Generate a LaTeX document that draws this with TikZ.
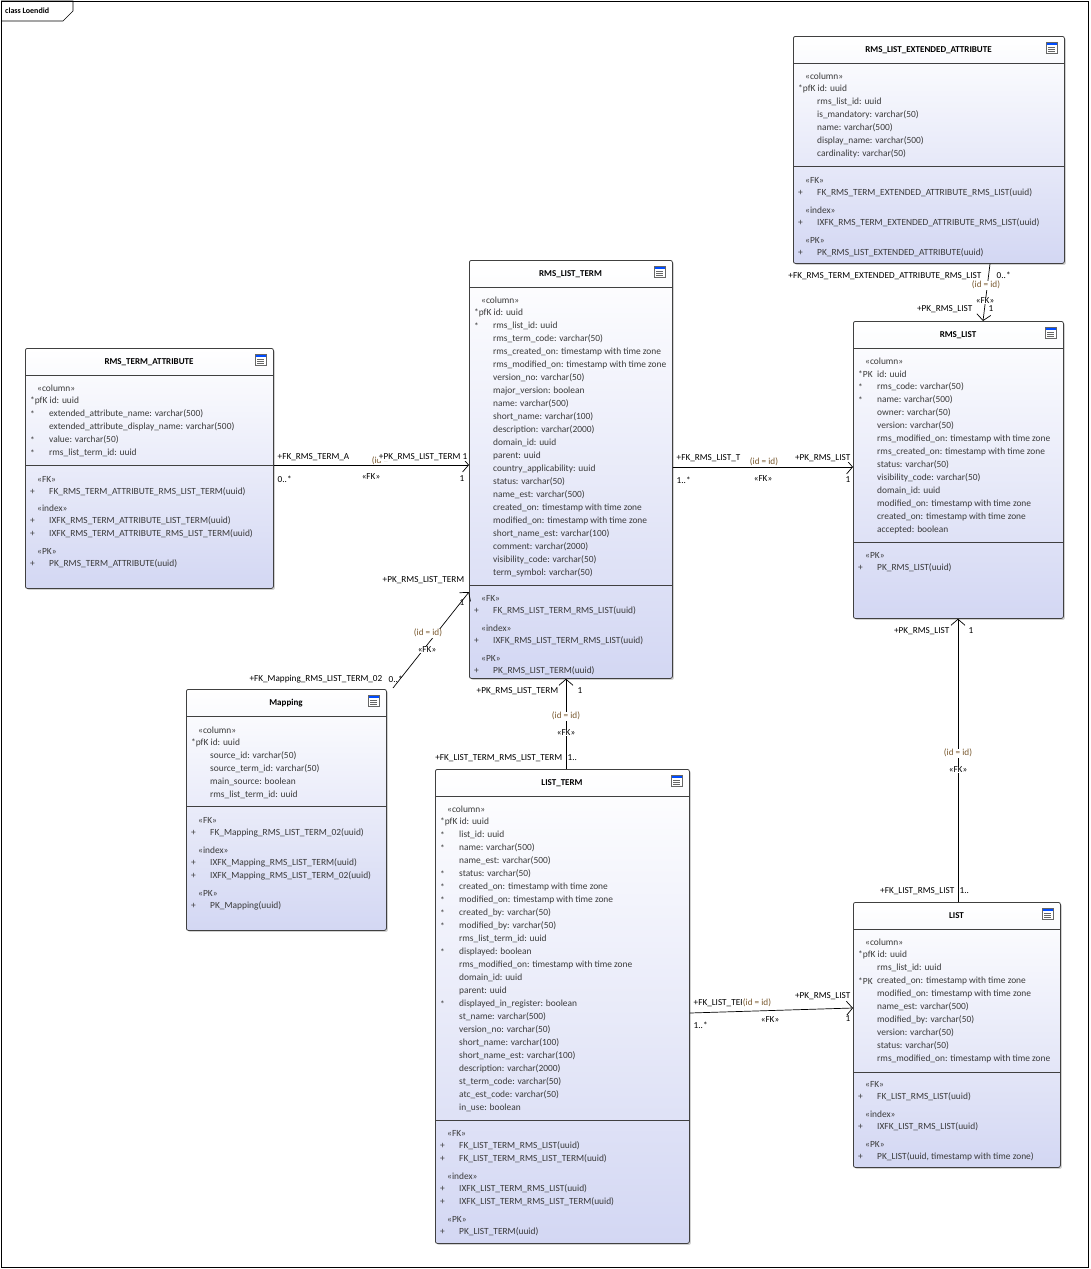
\documentclass[tikz,border=0pt]{standalone}
\usepackage{fontspec}
\setmainfont{Carlito}
\usetikzlibrary{arrows.meta,shadows}
\definecolor{bord}{HTML}{404040}
\definecolor{fillb}{HTML}{D3D7F3}
\definecolor{txtc}{HTML}{3A3A3A}
\definecolor{lblc}{HTML}{7A5A30}
\tikzset{
 x=1pt,y=-1pt,
 tblbox/.style={draw=bord,line width=0.8pt,rounded corners=2pt,top color=white,bottom color=fillb,inner sep=0pt,drop shadow={shadow xshift=1.5pt,shadow yshift=-1.5pt,opacity=.35}},
 txt/.style={anchor=west,inner sep=0pt,font=\fontsize{9.4}{10}\selectfont,text=txtc},
 ttl/.style={inner sep=0pt,font=\fontsize{9}{10}\selectfont\bfseries,text=black},
 lbl/.style={inner sep=0.5pt,font=\fontsize{9.2}{10}\selectfont,text=black},
 idl/.style={inner sep=0.5pt,font=\fontsize{9.2}{10}\selectfont,text=lblc},
 fk/.style={draw=black,line width=0.7pt,-{Straight Barb[length=6pt,width=14pt]}},
}
% table box
\newcommand\tbl[6]{%
 \node[tblbox,anchor=north west,minimum width={(#4-#2)*1pt},minimum height={(#5-#3)*1pt}] (#1) at (#2,#3) {};
 \draw[bord,line width=0.7pt] (#2,{#3+27}) -- (#4,{#3+27});
 \node[ttl] at ({(#2+#4)/2},{#3+14}) {#6};
 \fill[white] ({#4-18},{#3+6}) rectangle ({#4-7},{#3+17});
 \fill[blue!70!cyan] ({#4-18},{#3+6}) rectangle ({#4-7},{#3+8.5});
 \draw[gray!80!black,line width=0.5pt] ({#4-18},{#3+6}) rectangle ({#4-7},{#3+17});
 \foreach \q in {11,13,15}{\draw[gray!80!black,line width=0.5pt] ({#4-16},{#3+\q}) -- ({#4-9},{#3+\q});}
}
\newcommand\sep[3]{\draw[bord,line width=0.7pt] (#1,#3) -- (#2,#3);}
\newcommand\st[3]{\node[txt] at ({#1+12},#2) {#3};}
\newcommand\fl[4]{\node[txt] at ({#1+5},#2) {#3}; \node[txt] at ({#1+24},#2) {#4};}
\newcommand\pf[3]{\node[txt] at ({#1+5},#2) {#3};}
\begin{document}
\begin{tikzpicture}
\useasboundingbox (0,0) rectangle (1090,1269);
\fill[white] (0,0) rectangle (1090,1269);
% frame
\draw[line width=0.7pt] (1,1) rectangle (1088,1267);
\draw[line width=0.7pt] (1,1) -- (73,1) -- (73,11) -- (63,21) -- (1,21);
\node[anchor=west,inner sep=0pt,font=\fontsize{8}{9}\selectfont\bfseries] at (5,11) {class Loendid};

% RMS_LIST_EXTENDED_ATTRIBUTE
\tbl{rlea}{793}{36}{1064}{263}{RMS\_LIST\_EXTENDED\_ATTRIBUTE}
\st{793}{76}{«column»}
\pf{793}{89}{*pfK id: uuid}
\fl{793}{102}{}{rms\_list\_id: uuid}
\fl{793}{115}{}{is\_mandatory: varchar(50)}
\fl{793}{128}{}{name: varchar(500)}
\fl{793}{141}{}{display\_name: varchar(500)}
\fl{793}{154}{}{cardinality: varchar(50)}
\sep{793}{1064}{166}
\st{793}{180}{«FK»}
\fl{793}{193}{+}{FK\_RMS\_TERM\_EXTENDED\_ATTRIBUTE\_RMS\_LIST(uuid)}
\st{793}{210}{«index»}
\fl{793}{223}{+}{IXFK\_RMS\_TERM\_EXTENDED\_ATTRIBUTE\_RMS\_LIST(uuid)}
\st{793}{240}{«PK»}
\fl{793}{253}{+}{PK\_RMS\_LIST\_EXTENDED\_ATTRIBUTE(uuid)}

% RMS_LIST_TERM
\tbl{rlt}{469}{260}{672}{678}{RMS\_LIST\_TERM}
\st{469}{300}{«column»}
\pf{469}{313}{*pfK id: uuid}
\fl{469}{326}{*}{rms\_list\_id: uuid}
\fl{469}{339}{}{rms\_term\_code: varchar(50)}
\fl{469}{352}{}{rms\_created\_on: timestamp with time zone}
\fl{469}{365}{}{rms\_modified\_on: timestamp with time zone}
\fl{469}{378}{}{version\_no: varchar(50)}
\fl{469}{391}{}{major\_version: boolean}
\fl{469}{404}{}{name: varchar(500)}
\fl{469}{417}{}{short\_name: varchar(100)}
\fl{469}{430}{}{description: varchar(2000)}
\fl{469}{443}{}{domain\_id: uuid}
\fl{469}{456}{}{parent: uuid}
\fl{469}{469}{}{country\_applicability: uuid}
\fl{469}{482}{}{status: varchar(50)}
\fl{469}{495}{}{name\_est: varchar(500)}
\fl{469}{508}{}{created\_on: timestamp with time zone}
\fl{469}{521}{}{modified\_on: timestamp with time zone}
\fl{469}{534}{}{short\_name\_est: varchar(100)}
\fl{469}{547}{}{comment: varchar(2000)}
\fl{469}{560}{}{visibility\_code: varchar(50)}
\fl{469}{573}{}{term\_symbol: varchar(50)}
\sep{469}{672}{585}
\st{469}{598}{«FK»}
\fl{469}{611}{+}{FK\_RMS\_LIST\_TERM\_RMS\_LIST(uuid)}
\st{469}{628}{«index»}
\fl{469}{641}{+}{IXFK\_RMS\_LIST\_TERM\_RMS\_LIST(uuid)}
\st{469}{658}{«PK»}
\fl{469}{671}{+}{PK\_RMS\_LIST\_TERM(uuid)}

% RMS_TERM_ATTRIBUTE
\tbl{rta}{25}{348}{273}{588}{RMS\_TERM\_ATTRIBUTE}
\st{25}{388}{«column»}
\pf{25}{401}{*pfK id: uuid}
\fl{25}{414}{*}{extended\_attribute\_name: varchar(500)}
\fl{25}{427}{}{extended\_attribute\_display\_name: varchar(500)}
\fl{25}{440}{*}{value: varchar(50)}
\fl{25}{453}{*}{rms\_list\_term\_id: uuid}
\sep{25}{273}{465}
\st{25}{479}{«FK»}
\fl{25}{492}{+}{FK\_RMS\_TERM\_ATTRIBUTE\_RMS\_LIST\_TERM(uuid)}
\st{25}{508}{«index»}
\fl{25}{521}{+}{IXFK\_RMS\_TERM\_ATTRIBUTE\_LIST\_TERM(uuid)}
\fl{25}{534}{+}{IXFK\_RMS\_TERM\_ATTRIBUTE\_RMS\_LIST\_TERM(uuid)}
\st{25}{551}{«PK»}
\fl{25}{564}{+}{PK\_RMS\_TERM\_ATTRIBUTE(uuid)}

% RMS_LIST
\tbl{rl}{853}{321}{1063}{618}{RMS\_LIST}
\st{853}{361}{«column»}
\fl{853}{374}{*PK}{id: uuid}
\fl{853}{387}{*}{rms\_code: varchar(50)}
\fl{853}{400}{*}{name: varchar(500)}
\fl{853}{413}{}{owner: varchar(50)}
\fl{853}{426}{}{version: varchar(50)}
\fl{853}{439}{}{rms\_modified\_on: timestamp with time zone}
\fl{853}{452}{}{rms\_created\_on: timestamp with time zone}
\fl{853}{465}{}{status: varchar(50)}
\fl{853}{478}{}{visibility\_code: varchar(50)}
\fl{853}{491}{}{domain\_id: uuid}
\fl{853}{504}{}{modified\_on: timestamp with time zone}
\fl{853}{517}{}{created\_on: timestamp with time zone}
\fl{853}{530}{}{accepted: boolean}
\sep{853}{1063}{542}
\st{853}{555}{«PK»}
\fl{853}{568}{+}{PK\_RMS\_LIST(uuid)}

% Mapping
\tbl{map}{186}{689}{386}{930}{Mapping}
\st{186}{730}{«column»}
\pf{186}{743}{*pfK id: uuid}
\fl{186}{756}{}{source\_id: varchar(50)}
\fl{186}{769}{}{source\_term\_id: varchar(50)}
\fl{186}{782}{}{main\_source: boolean}
\fl{186}{795}{}{rms\_list\_term\_id: uuid}
\sep{186}{386}{806}
\st{186}{820}{«FK»}
\fl{186}{833}{+}{FK\_Mapping\_RMS\_LIST\_TERM\_02(uuid)}
\st{186}{850}{«index»}
\fl{186}{863}{+}{IXFK\_Mapping\_RMS\_LIST\_TERM(uuid)}
\fl{186}{876}{+}{IXFK\_Mapping\_RMS\_LIST\_TERM\_02(uuid)}
\st{186}{893}{«PK»}
\fl{186}{906}{+}{PK\_Mapping(uuid)}

% LIST_TERM
\tbl{ltm}{435}{769}{689}{1243}{LIST\_TERM}
\st{435}{809}{«column»}
\pf{435}{822}{*pfK id: uuid}
\fl{435}{835}{*}{list\_id: uuid}
\fl{435}{848}{*}{name: varchar(500)}
\fl{435}{861}{}{name\_est: varchar(500)}
\fl{435}{874}{*}{status: varchar(50)}
\fl{435}{887}{*}{created\_on: timestamp with time zone}
\fl{435}{900}{*}{modified\_on: timestamp with time zone}
\fl{435}{913}{*}{created\_by: varchar(50)}
\fl{435}{926}{*}{modified\_by: varchar(50)}
\fl{435}{939}{}{rms\_list\_term\_id: uuid}
\fl{435}{952}{*}{displayed: boolean}
\fl{435}{965}{}{rms\_modified\_on: timestamp with time zone}
\fl{435}{978}{}{domain\_id: uuid}
\fl{435}{991}{}{parent: uuid}
\fl{435}{1004}{*}{displayed\_in\_register: boolean}
\fl{435}{1017}{}{st\_name: varchar(500)}
\fl{435}{1030}{}{version\_no: varchar(50)}
\fl{435}{1043}{}{short\_name: varchar(100)}
\fl{435}{1056}{}{short\_name\_est: varchar(100)}
\fl{435}{1069}{}{description: varchar(2000)}
\fl{435}{1082}{}{st\_term\_code: varchar(50)}
\fl{435}{1095}{}{atc\_est\_code: varchar(50)}
\fl{435}{1108}{}{in\_use: boolean}
\sep{435}{689}{1120}
\st{435}{1133}{«FK»}
\fl{435}{1146}{+}{FK\_LIST\_TERM\_RMS\_LIST(uuid)}
\fl{435}{1159}{+}{FK\_LIST\_TERM\_RMS\_LIST\_TERM(uuid)}
\st{435}{1176}{«index»}
\fl{435}{1189}{+}{IXFK\_LIST\_TERM\_RMS\_LIST(uuid)}
\fl{435}{1202}{+}{IXFK\_LIST\_TERM\_RMS\_LIST\_TERM(uuid)}
\st{435}{1219}{«PK»}
\fl{435}{1232}{+}{PK\_LIST\_TERM(uuid)}

% LIST
\tbl{lst}{853}{902}{1060}{1167}{LIST}
\st{853}{942}{«column»}
\pf{853}{955}{*pfK id: uuid}
\fl{853}{968}{}{rms\_list\_id: uuid}
\fl{853}{981}{*PK}{created\_on: timestamp with time zone}
\fl{853}{994}{}{modified\_on: timestamp with time zone}
\fl{853}{1007}{}{name\_est: varchar(500)}
\fl{853}{1020}{}{modified\_by: varchar(50)}
\fl{853}{1033}{}{version: varchar(50)}
\fl{853}{1046}{}{status: varchar(50)}
\fl{853}{1059}{}{rms\_modified\_on: timestamp with time zone}
\sep{853}{1060}{1072}
\st{853}{1084}{«FK»}
\fl{853}{1097}{+}{FK\_LIST\_RMS\_LIST(uuid)}
\st{853}{1114}{«index»}
\fl{853}{1127}{+}{IXFK\_LIST\_RMS\_LIST(uuid)}
\st{853}{1144}{«PK»}
\fl{853}{1157}{+}{PK\_LIST(uuid, timestamp with time zone)}

% ---------- connectors ----------
% 1 RMS_TERM_ATTRIBUTE -> RMS_LIST_TERM
\draw[fk] (rta.east |- 0,465) -- (rlt.west |- 0,465);
\node[lbl,anchor=west] at (277,457) {+FK\_RMS\_TERM\_A};
\node[idl] at (380,461) {(id =};
\node[lbl,anchor=east,fill=white] at (468,457) {+PK\_RMS\_LIST\_TERM 1};
\node[lbl,anchor=west] at (277,479) {0..*};
\node[lbl] at (371,477) {«FK»};
\node[lbl] at (462,479) {1};
% 2 RMS_LIST_TERM -> RMS_LIST
\draw[fk] (rlt.east |- 0,467) -- (rl.west |- 0,467);
\node[lbl,anchor=west] at (676,458) {+FK\_RMS\_LIST\_T};
\node[idl,fill=white] at (764,462) {(id = id)};
\node[lbl,anchor=east,fill=white] at (851,458) {+PK\_RMS\_LIST};
\node[lbl,anchor=west] at (676,480) {1..*};
\node[lbl] at (763,479) {«FK»};
\node[lbl] at (848,480) {1};
% 3 RMS_LIST_EXTENDED_ATTRIBUTE -> RMS_LIST
\draw[fk] (rlea.south -| 990,0) -- (rl.north -| 983,0);
\node[lbl,anchor=east,fill=white] at (982,276) {+FK\_RMS\_TERM\_EXTENDED\_ATTRIBUTE\_RMS\_LIST};
\node[lbl,anchor=west] at (996,275) {0..*};
\node[idl,fill=white] at (986,285) {(id = id)};
\node[lbl,fill=white] at (985,301) {«FK»};
\node[lbl,anchor=east] at (973,309) {+PK\_RMS\_LIST};
\node[lbl] at (991,309) {1};
% 4 Mapping -> RMS_LIST_TERM
\coordinate (m1) at (393,688);
\draw[fk] (m1) -- (rlt.west |- 0,592);
\node[lbl,anchor=east] at (465,580) {+PK\_RMS\_LIST\_TERM};
\node[lbl] at (462,603) {1};
\node[idl,fill=white] at (428,633) {(id = id)};
\node[lbl,fill=white] at (427,650) {«FK»};
\node[lbl,anchor=east] at (383,679) {+FK\_Mapping\_RMS\_LIST\_TERM\_02};
\node[lbl,anchor=west] at (388,679) {0..*};
% 5 LIST_TERM -> RMS_LIST_TERM
\draw[fk] (ltm.north -| 566,0) -- (rlt.south -| 566,0);
\node[lbl,anchor=east] at (559,691) {+PK\_RMS\_LIST\_TERM};
\node[lbl] at (580,691) {1};
\node[idl,fill=white] at (566,716) {(id = id)};
\node[lbl,fill=white] at (566,733) {«FK»};
\node[lbl,anchor=east] at (563,758) {+FK\_LIST\_TERM\_RMS\_LIST\_TERM};
\node[lbl,anchor=west] at (567,758) {1..};
% 6 LIST -> RMS_LIST
\draw[fk] (lst.north -| 958,0) -- (rl.south -| 958,0);
\node[lbl,anchor=east] at (950,631) {+PK\_RMS\_LIST};
\node[lbl] at (971,631) {1};
\node[idl,fill=white] at (958,753) {(id = id)};
\node[lbl,fill=white] at (958,770) {«FK»};
\node[lbl,anchor=east] at (955,891) {+FK\_LIST\_RMS\_LIST};
\node[lbl,anchor=west] at (959,891) {1..};
% 7 LIST_TERM -> LIST
\draw[fk] (ltm.east |- 0,1013) -- (lst.west |- 0,1008);
\node[lbl,anchor=west] at (693,1003) {+FK\_LIST\_TERM};
\node[idl,fill=white] at (757,1003) {(id = id)};
\node[lbl,anchor=east,fill=white] at (851,996) {+PK\_RMS\_LIST};
\node[lbl,anchor=west] at (693,1025) {1..*};
\node[lbl] at (770,1020) {«FK»};
\node[lbl] at (848,1019) {1};
\end{tikzpicture}
\end{document}
